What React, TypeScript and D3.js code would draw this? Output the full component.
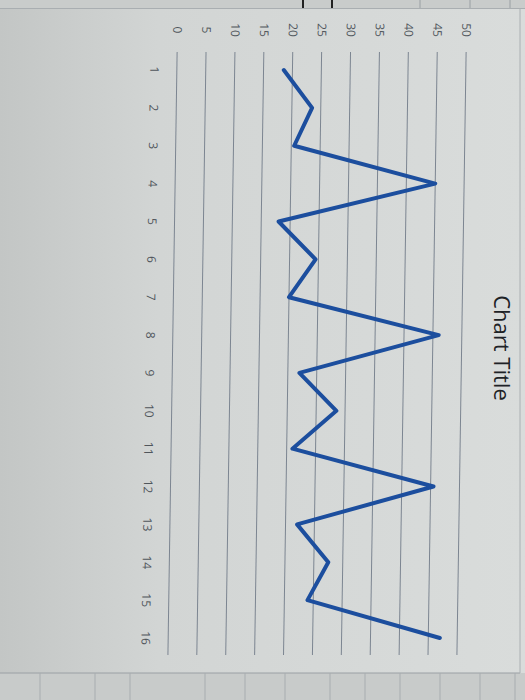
import * as d3 from 'd3'

const categories = ['1', '2', '3', '4', '5', '6', '7', '8', '9', '10', '11', '12', '13', '14', '15', '16']
const values = [18.5, 23.5, 20.5, 45, 18, 24.5, 20, 46, 22, 28.5, 21, 45.5, 22, 27.5, 24, 47]
const valueTicks = [0, 5, 10, 15, 20, 25, 30, 35, 40, 45, 50]
const title = 'Chart Title'

const W = 525, H = 700
const FONT = '"Open Sans", "Liberation Sans", sans-serif'

export default function App() {
  // chart is rotated 90° clockwise: values run left→right, categories top→bottom
  const x = d3.scaleLinear().domain([0, 50]).range([172.5, 461.5])
  const y = d3.scalePoint<string>().domain(categories).range([70, 638])
  const line = d3.line<number>()
    .x(v => x(v))
    .y((_, i) => y(categories[i])!)

  // slight photo perspective: lines lean left toward the bottom
  const c = -9 / 590
  const skew = `translate(${-c * 355},0) matrix(1,0,${c},1,0,0)`

  return (
    <svg width={W} height={H} style={{ position: 'absolute', left: 0, top: 0 }}>
      <defs>
        <linearGradient id="bg" x1="0" x2="1" y1="0" y2="0">
          <stop offset="0" stopColor="#c3c6c5"/>
          <stop offset="0.3" stopColor="#d2d5d4"/>
          <stop offset="1" stopColor="#d9dcdb"/>
        </linearGradient>
      </defs>
      <rect width={W} height={H} fill="url(#bg)"/>

      {/* spreadsheet cells peeking out around the chart */}
      <rect x={0} y={0} width={W} height={8} fill="#c9cccb"/>
      {[303, 332, 420, 470, 510].map(px => (
        <line key={px} x1={px} x2={px} y1={0} y2={8} stroke={px < 340 ? '#222' : '#9aa0a4'} strokeWidth={px < 340 ? 2 : 1}/>
      ))}
      <line x1={0} x2={W} y1={8.5} y2={8.5} stroke="#a9aeb1"/>
      <rect x={0} y={673} width={W} height={H - 673} fill="#c8cbca"/>
      <line x1={0} x2={520} y1={673} y2={673} stroke="#9aa0a4"/>
      <line x1={520} x2={520} y1={8} y2={673} stroke="#aab0b3"/>
      {[40, 95, 130, 205, 245, 285, 330, 365, 400, 440, 480, 515].map(px => (
        <line key={px} x1={px} x2={px} y1={673} y2={H} stroke="#a8adb0"/>
      ))}

      <g transform={skew}>
        {/* value gridlines */}
        {valueTicks.map(t => (
          <line key={t} x1={x(t)} x2={x(t)} y1={52} y2={655}
            stroke="#7c8591" strokeWidth={1}/>
        ))}

        {/* value labels */}
        {valueTicks.map(t => (
          <text key={t} transform={`translate(${x(t)},30) rotate(90)`}
            textAnchor="middle" dy="0.35em" fontFamily={FONT} fontSize={12} fill="#50565c">
            {t}
          </text>
        ))}

        {/* category labels */}
        {categories.map(cat => (
          <text key={cat} transform={`translate(150,${y(cat)}) rotate(90)`}
            textAnchor="middle" dy="0.35em" fontFamily={FONT} fontSize={12} fill="#50565c">
            {cat}
          </text>
        ))}

        {/* series */}
        <path d={line(values) ?? ''} fill="none" stroke="#1c4e9e" strokeWidth={4}
          strokeLinejoin="round" strokeLinecap="round"/>
      </g>

      {/* title */}
      <text transform={`translate(502,348) rotate(90)`} textAnchor="middle" dy="0.35em"
        fontFamily={FONT} fontSize={22} fill="#1e2226">
        {title}
      </text>
    </svg>
  )
}
